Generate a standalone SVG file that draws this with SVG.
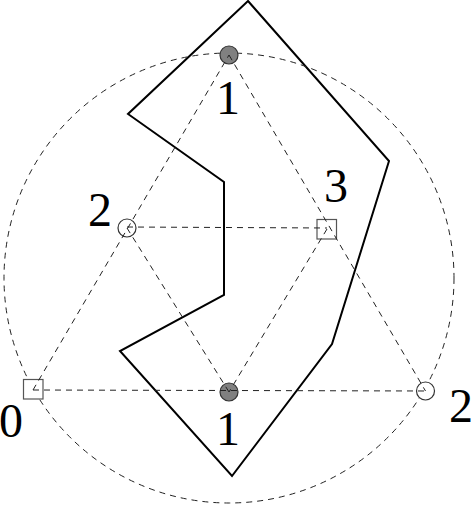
<svg xmlns="http://www.w3.org/2000/svg" width="474" height="506" viewBox="0 0 474 506">
<style>
.dash{fill:none;stroke:#222;stroke-width:1;stroke-dasharray:6 5}
.poly{fill:none;stroke:#000;stroke-width:2;stroke-linejoin:miter}
.gray{fill:#808080;stroke:#333;stroke-width:1.2}
.open{fill:#fff;stroke:#333;stroke-width:1.2}
.sq{fill:#fff;stroke:#555;stroke-width:1.2}
.lbl{font-family:"Liberation Serif","Times New Roman",serif;font-size:48px;fill:#000;text-anchor:middle}
</style>
<rect width="474" height="506" fill="#fff"/>
<polygon id="region" class="poly" points="248,1 389,161 332,344 232,476 120,351 224,295 224,182 128,114"/>
<circle id="circle" class="dash" cx="229" cy="278" r="225"/>
<g id="n1top"><circle class="gray" cx="229" cy="55" r="9"/><text class="lbl" x="228" y="114">1</text></g>
<g id="n2left"><circle class="open" cx="127" cy="228" r="9"/><text class="lbl" x="100" y="226">2</text></g>
<g id="n3"><rect class="sq" x="317" y="219.5" width="19.5" height="19.5"/><text class="lbl" x="336" y="202">3</text></g>
<g id="n0"><rect class="sq" x="23.5" y="379.5" width="19.5" height="19.5"/><text class="lbl" x="11" y="437">0</text></g>
<g id="n1bot"><circle class="gray" cx="229" cy="392" r="9"/><text class="lbl" x="228" y="445">1</text></g>
<g id="n2right"><circle class="open" cx="425.5" cy="391" r="9"/><text class="lbl" x="461" y="422">2</text></g>
<g id="connectors">
<line class="dash" x1="33" y1="390" x2="229" y2="55"/>
<line class="dash" x1="229" y1="55" x2="425.5" y2="391"/>
<line class="dash" x1="33" y1="390" x2="425.5" y2="391"/>
<line class="dash" x1="127" y1="227" x2="327" y2="228"/>
<line class="dash" x1="127" y1="228" x2="229" y2="392"/>
<line class="dash" x1="327" y1="229" x2="229" y2="392"/>
</g>
</svg>
